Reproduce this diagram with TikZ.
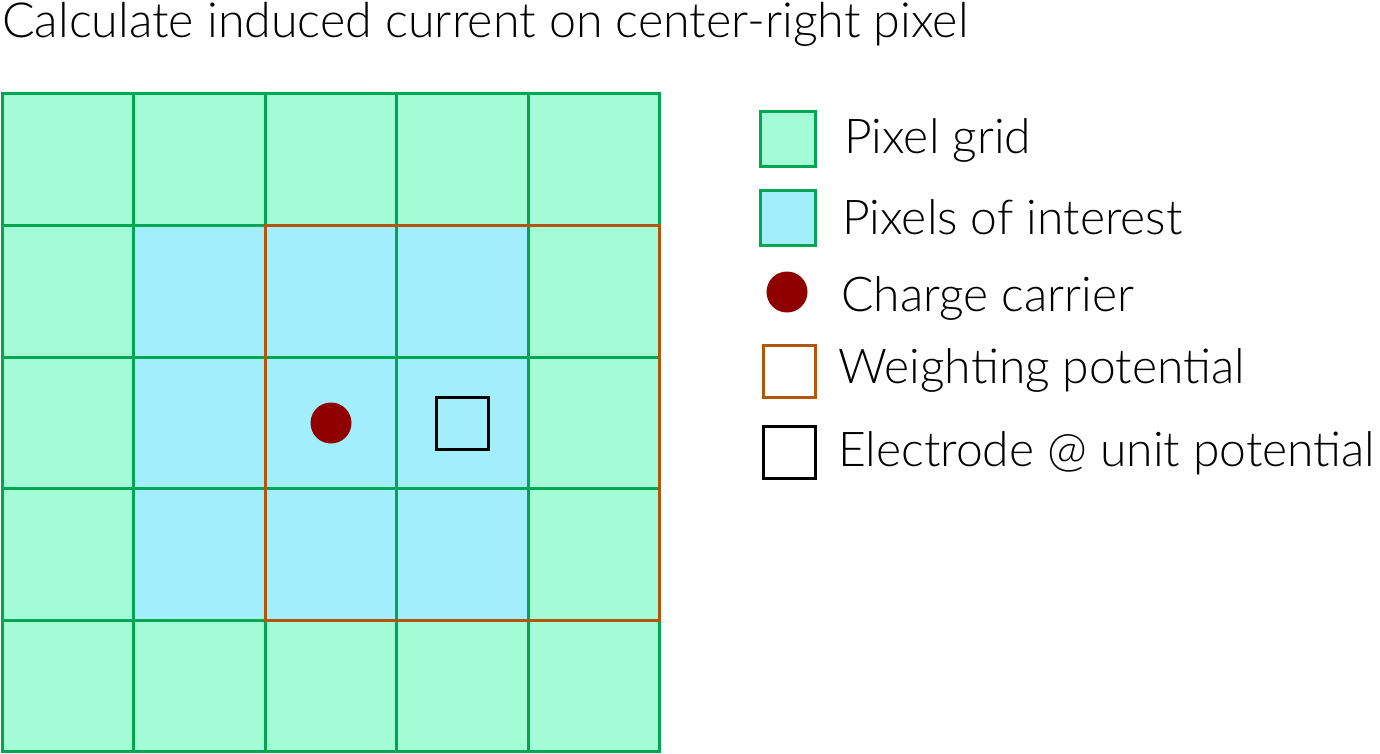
\documentclass[tikz,border=0pt]{standalone}
\usepackage{fontspec}
\setmainfont{Lato}[UprightFont=* Light]
\definecolor{gridline}{RGB}{0,166,81}
\definecolor{gridfill}{RGB}{163,252,213}
\definecolor{poifill}{RGB}{162,238,252}
\definecolor{wpcol}{RGB}{180,85,12}
\definecolor{carrier}{RGB}{145,0,0}
\tikzset{
  cellbox/.style={draw=gridline, line width=3pt, minimum size=131.5pt, inner sep=0pt, outer sep=0pt},
  wpbox/.style={draw=wpcol, line width=3pt, inner sep=0pt, outer sep=0pt},
  elbox/.style={draw=black, line width=3pt, minimum size=52pt, inner sep=0pt, outer sep=0pt},
  carrierdot/.style={circle, fill=carrier, minimum size=41pt, inner sep=0pt},
  legtext/.style={anchor=base west, inner sep=0pt, font=\fontsize{48}{56}\selectfont},
  titletext/.style={anchor=base west, inner sep=0pt, font=\fontsize{48.4}{58}\selectfont},
}
\begin{document}
\begin{tikzpicture}[x=1pt,y=-1pt]
\useasboundingbox (0,0) rectangle (1380,754);
\node[titletext] (title) at (2,38) {Calculate induced current on center-right pixel};
% grid
\foreach \i in {0,...,4}{
  \foreach \j in {0,...,4}{
    \pgfmathtruncatemacro\inner{and(and(\i>0,\i<4),and(\j>0,\j<4))}
    \ifnum\inner=1 \def\cf{poifill}\else\def\cf{gridfill}\fi
    \node[cellbox, fill=\cf] (c\i\j) at ({67.75+131.5*\i},{159.75+131.5*\j}) {};
  }
}
\node[wpbox, minimum width=394.5pt, minimum height=394.5pt] (wp) at (462.25,422.75) {};
\node[carrierdot] (q) at (331,423) {};
\node[elbox] (el) at (462.5,423) {};
% legend
\node[cellbox, fill=gridfill, minimum size=55pt] (lg1) at (787.5,139.5) {};
\node[cellbox, fill=poifill, minimum size=55pt] (lg2) at (787.5,218) {};
\node[carrierdot] (lg3) at (787,292) {};
\node[wpbox, minimum size=52pt] (lg4) at (789,371) {};
\node[elbox] (lg5) at (789,452) {};
\node[legtext] (t1) at (844,154) {Pixel grid};
\node[legtext] (t2) at (842,234) {Pixels of interest};
\node[legtext] (t3) at (841,311) {Charge carrier};
\node[legtext] (t4) at (838,383) {Weighting potential};
\node[legtext] (t5) at (838,466) {Electrode @ unit potential};
\end{tikzpicture}
\end{document}
